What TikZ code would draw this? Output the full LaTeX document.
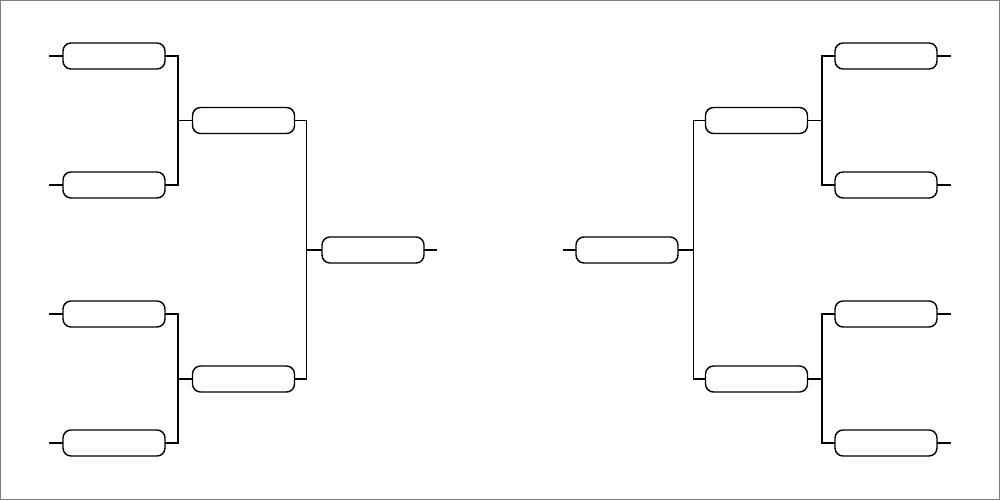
\documentclass[tikz,border=0pt]{standalone}
\begin{document}
\begin{tikzpicture}[x=0.02cm,y=-0.02cm,line width=0.8pt,
  slot/.style={draw,rounded corners=0.16cm,minimum width=2.04cm,minimum height=0.52cm,inner sep=0pt,outer sep=0pt}]
  \useasboundingbox (0,0) rectangle (1000,500);
  \draw[gray,line width=0.6pt] (0.5,0.5) rectangle (999.5,499.5);
  % left half
  \node[slot] (l1) at (114,56) {};
  \node[slot] (l2) at (114,185) {};
  \node[slot] (l3) at (114,314) {};
  \node[slot] (l4) at (114,443) {};
  \node[slot] (lm1) at (243.5,120.5) {};
  \node[slot] (lm2) at (243.5,379) {};
  \node[slot] (lf) at (373,250) {};
  % right half
  \node[slot] (r1) at (886,56) {};
  \node[slot] (r2) at (886,185) {};
  \node[slot] (r3) at (886,314) {};
  \node[slot] (r4) at (886,443) {};
  \node[slot] (rm1) at (756.5,120.5) {};
  \node[slot] (rm2) at (756.5,379) {};
  \node[slot] (rf) at (627,250) {};
  % free ends
  \coordinate (s1) at (49,56);
  \coordinate (s2) at (49,185);
  \coordinate (s3) at (49,314);
  \coordinate (s4) at (49,443);
  \coordinate (t1) at (951,56);
  \coordinate (t2) at (951,185);
  \coordinate (t3) at (951,314);
  \coordinate (t4) at (951,443);
  \coordinate (lw) at (437,250);
  \coordinate (rw) at (563,250);
  \draw (s1) -- (l1.west);
  \draw (s2) -- (l2.west);
  \draw (s3) -- (l3.west);
  \draw (s4) -- (l4.west);
  \draw (t1) -- (r1.east);
  \draw (t2) -- (r2.east);
  \draw (t3) -- (r3.east);
  \draw (t4) -- (r4.east);
  \draw (lf.east) -- (lw);
  \draw (rf.west) -- (rw);
  % brackets
  \draw (l1.east) -- ++(13,0) |- (lm1.west);
  \draw (l2.east) -- ++(13,0) |- (lm1.west);
  \draw (l3.east) -- ++(13,0) |- (lm2.west);
  \draw (l4.east) -- ++(13,0) |- (lm2.west);
  \draw (lm1.east) -- ++(12,0) |- (lf.west);
  \draw (lm2.east) -- ++(12,0) |- (lf.west);
  \draw (r1.west) -- ++(-13,0) |- (rm1.east);
  \draw (r2.west) -- ++(-13,0) |- (rm1.east);
  \draw (r3.west) -- ++(-13,0) |- (rm2.east);
  \draw (r4.west) -- ++(-13,0) |- (rm2.east);
  \draw (rm1.west) -- ++(-12,0) |- (rf.east);
  \draw (rm2.west) -- ++(-12,0) |- (rf.east);
\end{tikzpicture}
\end{document}
